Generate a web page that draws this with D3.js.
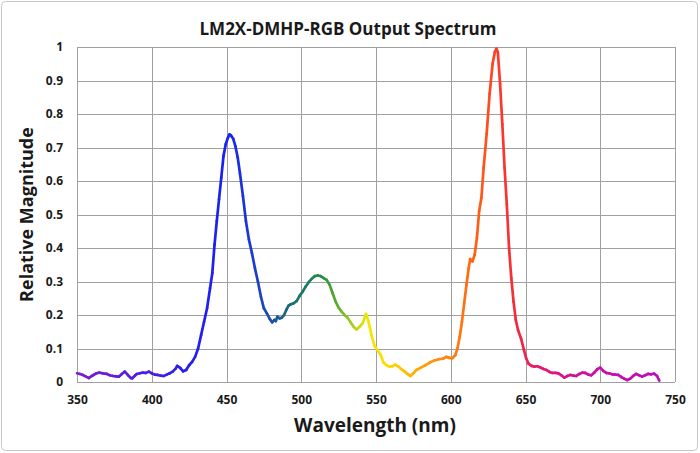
<!DOCTYPE html>
<html>
<head>
<meta charset="utf-8">
<script src="https://cdn.jsdelivr.net/npm/d3@7"></script>
<style>
  html, body { margin: 0; padding: 0; background: #ffffff; }
  svg { display: block; }
  text { font-family: "Open Sans", "DejaVu Sans", sans-serif; font-weight: 700; fill: #1a1a1a; }
</style>
</head>
<body>
<svg id="chart" width="700" height="453"></svg>
<script>
// ---- data ----
const chartTitle = "LM2X-DMHP-RGB Output Spectrum";
const xAxisTitle = "Wavelength (nm)";
const yAxisTitle = "Relative Magnitude";
const xTicks = [350, 400, 450, 500, 550, 600, 650, 700, 750];
const yTicks = [0, 0.1, 0.2, 0.3, 0.4, 0.5, 0.6, 0.7, 0.8, 0.9, 1];
const wavelengths = [
  350,352,354,356,358,360,361,363,365,367,370,372,374,376,378,380,382,384,386,387,389,390,392,394,396,398,
  400,402,404,406,408,410,412,414,416,417,419,421,423,425,427,429,431,433,435,437,439,440.5,442,443.5,445,
  446.5,448,449.5,451,452,453,454.5,456,457.5,459,461,463,465,467,469,471,473,475,477,479,480.5,482,483,484,
  485.5,487,488.5,490,491.5,493,495,497,499,501,503,505,507,509,511,513,515,517,519,521,523,525,527,529,531,
  533,535,537,539,541,543.3,545,547,549,551,553,555,557,559,561,563,565,567,569,571,573,575,577,580,583,586,
  589,592,595,597,599,601,603,604.5,606,607.5,609,610.5,612,613,614.5,616,617.5,619,620.5,622,624,626,628,
  629.5,630.5,631.5,633,634.5,636,637.5,639,640.5,642,643.5,645,647,649,650.5,652,654,656,658,660,662,664,
  666,668,670,672,674,676,678,680,682,684,686,688,690,692,694,696,698,700,702,704,706,708,710,712,714,716,
  718,720,722,724,726,728,730,732,734,736,738,739.5
];
const magnitudes = [
  0.026,0.024,0.021,0.016,0.012,0.018,0.021,0.026,0.028,0.026,0.024,0.020,0.018,0.017,0.016,0.024,0.031,0.021,0.012,0.011,0.020,0.024,0.026,0.028,0.027,0.031,
  0.026,0.022,0.021,0.019,0.018,0.022,0.026,0.031,0.040,0.048,0.042,0.032,0.036,0.050,0.060,0.075,0.100,0.140,0.180,0.220,0.280,0.325,0.410,0.480,0.545,
  0.610,0.675,0.710,0.730,0.739,0.736,0.726,0.703,0.670,0.623,0.555,0.480,0.425,0.385,0.340,0.300,0.255,0.220,0.205,0.188,0.178,0.185,0.182,0.195,
  0.190,0.192,0.200,0.215,0.228,0.232,0.235,0.242,0.258,0.270,0.285,0.298,0.308,0.316,0.318,0.316,0.310,0.305,0.290,0.265,0.240,0.222,0.210,0.200,0.192,
  0.178,0.165,0.157,0.165,0.175,0.203,0.180,0.140,0.108,0.095,0.082,0.058,0.050,0.046,0.047,0.052,0.046,0.038,0.032,0.024,0.018,0.026,0.036,0.043,0.050,0.058,
  0.064,0.068,0.070,0.075,0.072,0.071,0.080,0.100,0.135,0.180,0.235,0.290,0.340,0.367,0.360,0.380,0.430,0.510,0.550,0.640,0.740,0.860,0.950,
  0.985,0.995,0.985,0.890,0.770,0.640,0.530,0.400,0.310,0.240,0.185,0.155,0.130,0.095,0.070,0.055,0.048,0.046,0.047,0.043,0.039,0.036,
  0.030,0.027,0.027,0.026,0.020,0.013,0.018,0.021,0.019,0.018,0.024,0.028,0.027,0.022,0.020,0.028,0.038,0.043,0.033,0.027,0.026,0.023,0.022,0.021,0.015,0.010,
  0.006,0.010,0.018,0.024,0.020,0.016,0.020,0.024,0.023,0.025,0.018,0.004
];
// spectral colour stops (wavelength -> colour)
const colorStops = [350,400,420,450,470,480,495,505,515,525,535,545,560,575,590,605,620,632,645,660,680,700,740];
const colorValues = ["#7d1fc8","#4a1ee8","#2a1cf0","#1a22f0","#1a3fd0","#1e50a8","#1a7070","#1a8060","#2a9040","#60b030",
  "#b0d020","#f0e800","#ffd800","#ffb000","#ff9010","#ff7a10","#ff5a18","#ff3a28","#f02a40","#e81870","#d81090","#c810a8","#b810b8"];

// ---- layout ----
const svg = d3.select("#chart");
const W = 700, H = 453;
const m = { left: 77, right: 25, top: 47, bottom: 71 };
const pw = W - m.left - m.right, ph = H - m.top - m.bottom;

svg.append("rect").attr("x", 1.5).attr("y", 1.5).attr("width", W - 4).attr("height", H - 4)
  .attr("rx", 4).attr("fill", "#fff").attr("stroke", "#c8c8c8").attr("stroke-width", 1);

const x = d3.scaleLinear().domain([350, 750]).range([m.left, m.left + pw]);
const y = d3.scaleLinear().domain([0, 1]).range([m.top + ph, m.top]);
const color = d3.scaleLinear().domain(colorStops).range(colorValues);

const g = svg.append("g");
// gridlines
g.selectAll(".vg").data(xTicks).join("line")
  .attr("x1", d => Math.round(x(d)) + 0.5).attr("x2", d => Math.round(x(d)) + 0.5)
  .attr("y1", y(0)).attr("y2", y(1)).attr("stroke", "#a0a0a0").attr("stroke-width", 1);
g.selectAll(".hg").data(yTicks).join("line")
  .attr("y1", d => Math.round(y(d)) + 0.5).attr("y2", d => Math.round(y(d)) + 0.5)
  .attr("x1", x(350)).attr("x2", x(750)).attr("stroke", "#a0a0a0").attr("stroke-width", 1);

// axes (labels only)
const xAxis = d3.axisBottom(x).tickValues(xTicks).tickSize(0).tickPadding(0).tickFormat(d3.format("d"));
const xg = svg.append("g").attr("transform", `translate(0,${y(0) + 13})`).call(xAxis);
xg.select(".domain").remove();
xg.selectAll("text").attr("font-size", 12).attr("dy", "0.71em").attr("fill", "#1a1a1a");

const yAxis = d3.axisLeft(y).tickValues(yTicks).tickSize(0).tickPadding(0).tickFormat(d => d === 0 || d === 1 ? d3.format("d")(d) : d3.format(".1f")(d));
const yg = svg.append("g").attr("transform", `translate(${m.left - 14},0)`).call(yAxis);
yg.select(".domain").remove();
yg.selectAll("text").attr("font-size", 12).attr("fill", "#1a1a1a");
svg.selectAll(".tick text").style("font-family", '"Open Sans", sans-serif').style("font-weight", 700);

// spectrum line as coloured segments
const pts = wavelengths.map((w, i) => [w, magnitudes[i]]);
const line = d3.line().x(d => x(d[0])).y(d => y(d[1]));
const segs = d3.pairs(pts);
svg.append("g").selectAll("path").data(segs).join("path")
  .attr("d", d => line(d))
  .attr("fill", "none")
  .attr("stroke", d => color((d[0][0] + d[1][0]) / 2))
  .attr("stroke-width", 2.7)
  .attr("stroke-linecap", "round")
  .attr("stroke-linejoin", "round");

// titles
svg.append("text").attr("x", 348).attr("y", 35).attr("text-anchor", "middle")
  .attr("font-size", 17).text(chartTitle);
svg.append("text").attr("x", 375).attr("y", 432).attr("text-anchor", "middle")
  .attr("font-size", 19).text(xAxisTitle);
svg.append("text").attr("transform", `translate(33,${(y(0) + y(1)) / 2}) rotate(-90)`)
  .attr("text-anchor", "middle").attr("font-size", 18).text(yAxisTitle);
</script>
</body>
</html>
